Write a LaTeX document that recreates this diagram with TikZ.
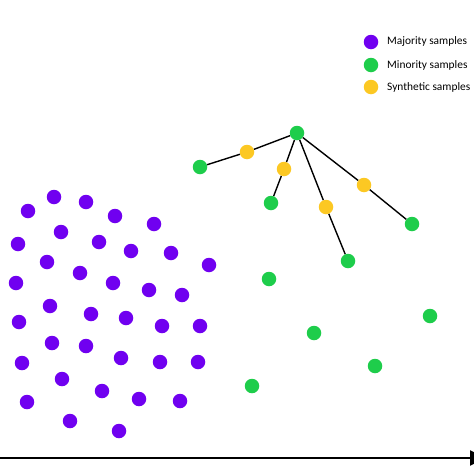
\documentclass[tikz,border=0pt]{standalone}
\usepackage{fontspec}
\setmainfont{Carlito}
\definecolor{majcol}{RGB}{112,0,240}
\definecolor{mincol}{RGB}{30,205,75}
\definecolor{syncol}{RGB}{252,200,35}
\usetikzlibrary{arrows.meta}

\begin{document}
\begin{tikzpicture}[x=1pt, y=-1pt,
      dot/.style={circle, inner sep=0pt, minimum size=14.5pt},
      maj/.style={dot, fill=majcol},
      mino/.style={dot, fill=mincol},
      syn/.style={dot, fill=syncol},
      lab/.style={anchor=west, inner sep=0pt, font=\fontsize{11.4}{13}\selectfont},
      link/.style={line width=1.4pt, black}
  ]
    \useasboundingbox (0,0) rectangle (474,474);
    \clip (0,0) rectangle (474,474);

    % majority cloud
    \foreach \px/\py [count=\i] in {28/211, 54/197, 86/202, 115/216, 154/224,
        18/244, 61/232, 99/242, 131/251, 171/253, 209/265,
        47/262, 80/273, 16/283, 113/283, 149/290, 182/295,
        50/306, 91/314, 126/318, 19/322, 162/326, 200/326,
        52/343, 86/346, 121/358, 22/363, 160/362, 198/362,
        62/379, 102/391, 27/402, 139/399, 180/401, 70/421, 119/431}
      \node[maj] (m\i) at (\px,\py) {};

    % minority samples
    \node[mino] (g0) at (297,133) {};
    \node[mino] (g1) at (200,167) {};
    \node[mino] (g2) at (271,203) {};
    \node[mino] (g3) at (348,261) {};
    \node[mino] (g4) at (412,224) {};
    \node[mino] (g5) at (269,279) {};
    \node[mino] (g6) at (430,316) {};
    \node[mino] (g7) at (314,333) {};
    \node[mino] (g8) at (375,366) {};
    \node[mino] (g9) at (252,386) {};

    % synthetic samples
    \node[syn] (s1) at (247,152) {};
    \node[syn] (s2) at (284,169) {};
    \node[syn] (s3) at (326,207) {};
    \node[syn] (s4) at (364,185) {};

    \draw[link] (g0) -- (s1) -- (g1);
    \draw[link] (g0) -- (s2) -- (g2);
    \draw[link] (g0) -- (s3) -- (g3);
    \draw[link] (g0) -- (s4) -- (g4);

    % legend
    \node[maj] (lm) at (371,42) {};
    \node[mino] (ln) at (371,65) {};
    \node[syn] (ls) at (371,87) {};
    \node[lab] (tm) at (387,42) {Majority samples};
    \node[lab] (tn) at (387,65) {Minority samples};
    \node[lab] (ts) at (387,87) {Synthetic samples};

    % axis
    \coordinate (ax0) at (0,458);
    \coordinate (ax1) at (490,458);
    \draw[line width=1.8pt, -{Latex[length=20pt, width=16pt]}] (ax0) -- (ax1);
  \end{tikzpicture}
\end{document}
